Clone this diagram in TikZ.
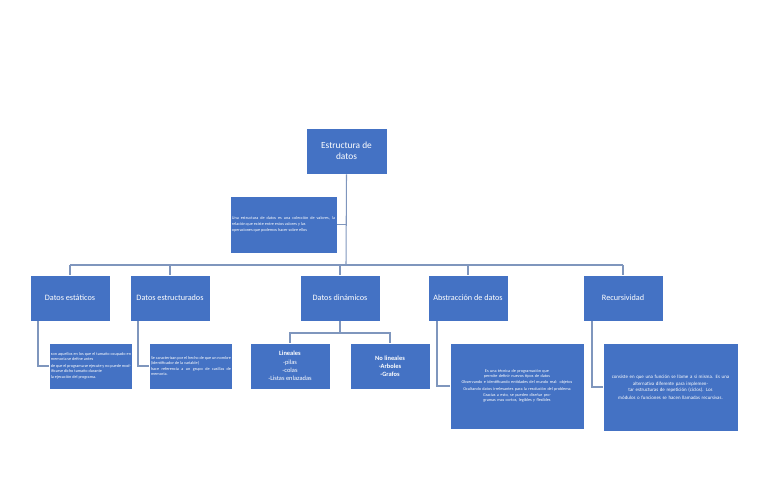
\documentclass[tikz,border=0pt]{standalone}
\usepackage{fontspec}
\setmainfont{Carlito}
\begin{document}
\begin{tikzpicture}[x=0.03cm,y=-0.03cm,
  box/.style={fill=blu,draw=white,line width=0.6pt,text=white,inner sep=1pt},
  big/.style={box,font=\fontsize{8}{9.5}\selectfont},
  small/.style={box,font=\fontsize{3.6}{4.4}\selectfont},
  conn/.style={draw=ln,line width=0.9pt}]
\definecolor{blu}{HTML}{4472C4}
\definecolor{ln}{HTML}{7F96BD}
\useasboundingbox (0,0) rectangle (768,497);
\node[big,minimum width=81\pgflinewidth,minimum width=2.43cm,minimum height=1.38cm,align=center] (root) at (346.5,151) {Estructura de\\datos};
\node[small,minimum width=3.21cm,minimum height=1.71cm,text width=3.1cm,align=justify] (desc) at (283.5,224.5) {Una estructura de datos es una colección de valores, la relación que existe entre estos valores y las\\[1pt] operaciones que podemos hacer sobre ellos};
\foreach \n/\x/\t in {est/70/Datos estáticos,estr/170/Datos estructurados,din/340/Datos dinámicos,abs/468/Abstracción de datos,rec/623/Recursividad}
  \node[big,minimum width=2.4cm,minimum height=1.38cm,font=\fontsize{7}{8}\selectfont] (\n) at (\x,298) {\t};
\coordinate (hl) at (70,265); \coordinate (hr) at (623,265);
\draw[conn] (root.south) -- (346,265);
\draw[conn] (hl) -- (hr);
\draw[conn] (desc.east) -- (346,224.5);
\foreach \n in {est,estr,din,abs,rec} \draw[conn] (\n.north) -- (\n.north |- hl);
\node[small,minimum width=2.46cm,minimum height=1.38cm,text width=2.4cm,align=justify] (estd) at (91,366) {son aquellos en los que el tamaño ocupado en memoria se define antes\\[1pt] de que el programa se ejecute y no puede modificarse dicho tamaño durante\\[1pt] la ejecución del programa.};
\node[small,minimum width=2.46cm,minimum height=1.38cm,text width=2.4cm,align=justify] (estrd) at (191,366) {Se caracterizan por el hecho de que un nombre (identificador de la variable)\\[1pt] hace referencia a un grupo de casillas de memoria.};
\draw[conn] ([xshift=-32*0.03cm]est.south) |- (estd.west);
\draw[conn] ([xshift=-32*0.03cm]estr.south) |- (estrd.west);
\node[big,minimum width=2.4cm,minimum height=1.38cm,font=\fontsize{5.5}{7}\selectfont,align=center] (lin) at (290,366) {\textbf{Lineales}\\-pilas\\-colas\\-Listas enlazadas};
\node[big,minimum width=2.4cm,minimum height=1.38cm,font=\fontsize{5.5}{7}\selectfont,align=center] (nlin) at (390,366) {\textbf{No lineales}\\\textbf{-Arboles}\\\textbf{-Grafos}};
\coordinate (dh) at (340,333);
\draw[conn] (din.south) -- (dh);
\draw[conn] (lin.north) |- (dh) -| (nlin.north);
\node[small,minimum width=4.02cm,minimum height=2.58cm,text width=3.8cm,align=center] (absd) at (517,386) {Es una técnica de programación que permite definir nuevos tipos de datos\\[1pt] Observando e identificando entidades del mundo real: objetos\\[1pt] Ocultando datos irrelevantes para la resolución del problema\\[1pt] Gracias a esto, se pueden diseñar programas mas cortos, legibles y flexibles};
\node[small,minimum width=4.05cm,minimum height=2.64cm,text width=3.9cm,align=center,font=\fontsize{4.2}{5.2}\selectfont] (recd) at (670.5,387) {consiste en que una función se llame a sí misma. Es una\\[1pt] alternativa diferente para implementar estructuras de repetición (ciclos). Los\\[1pt] módulos o funciones se hacen llamadas recursivas.};
\draw[conn] ([xshift=-31*0.03cm]abs.south) |- (absd.west);
\draw[conn] ([xshift=-31*0.03cm]rec.south) |- (recd.west);
\end{tikzpicture}
\end{document}
